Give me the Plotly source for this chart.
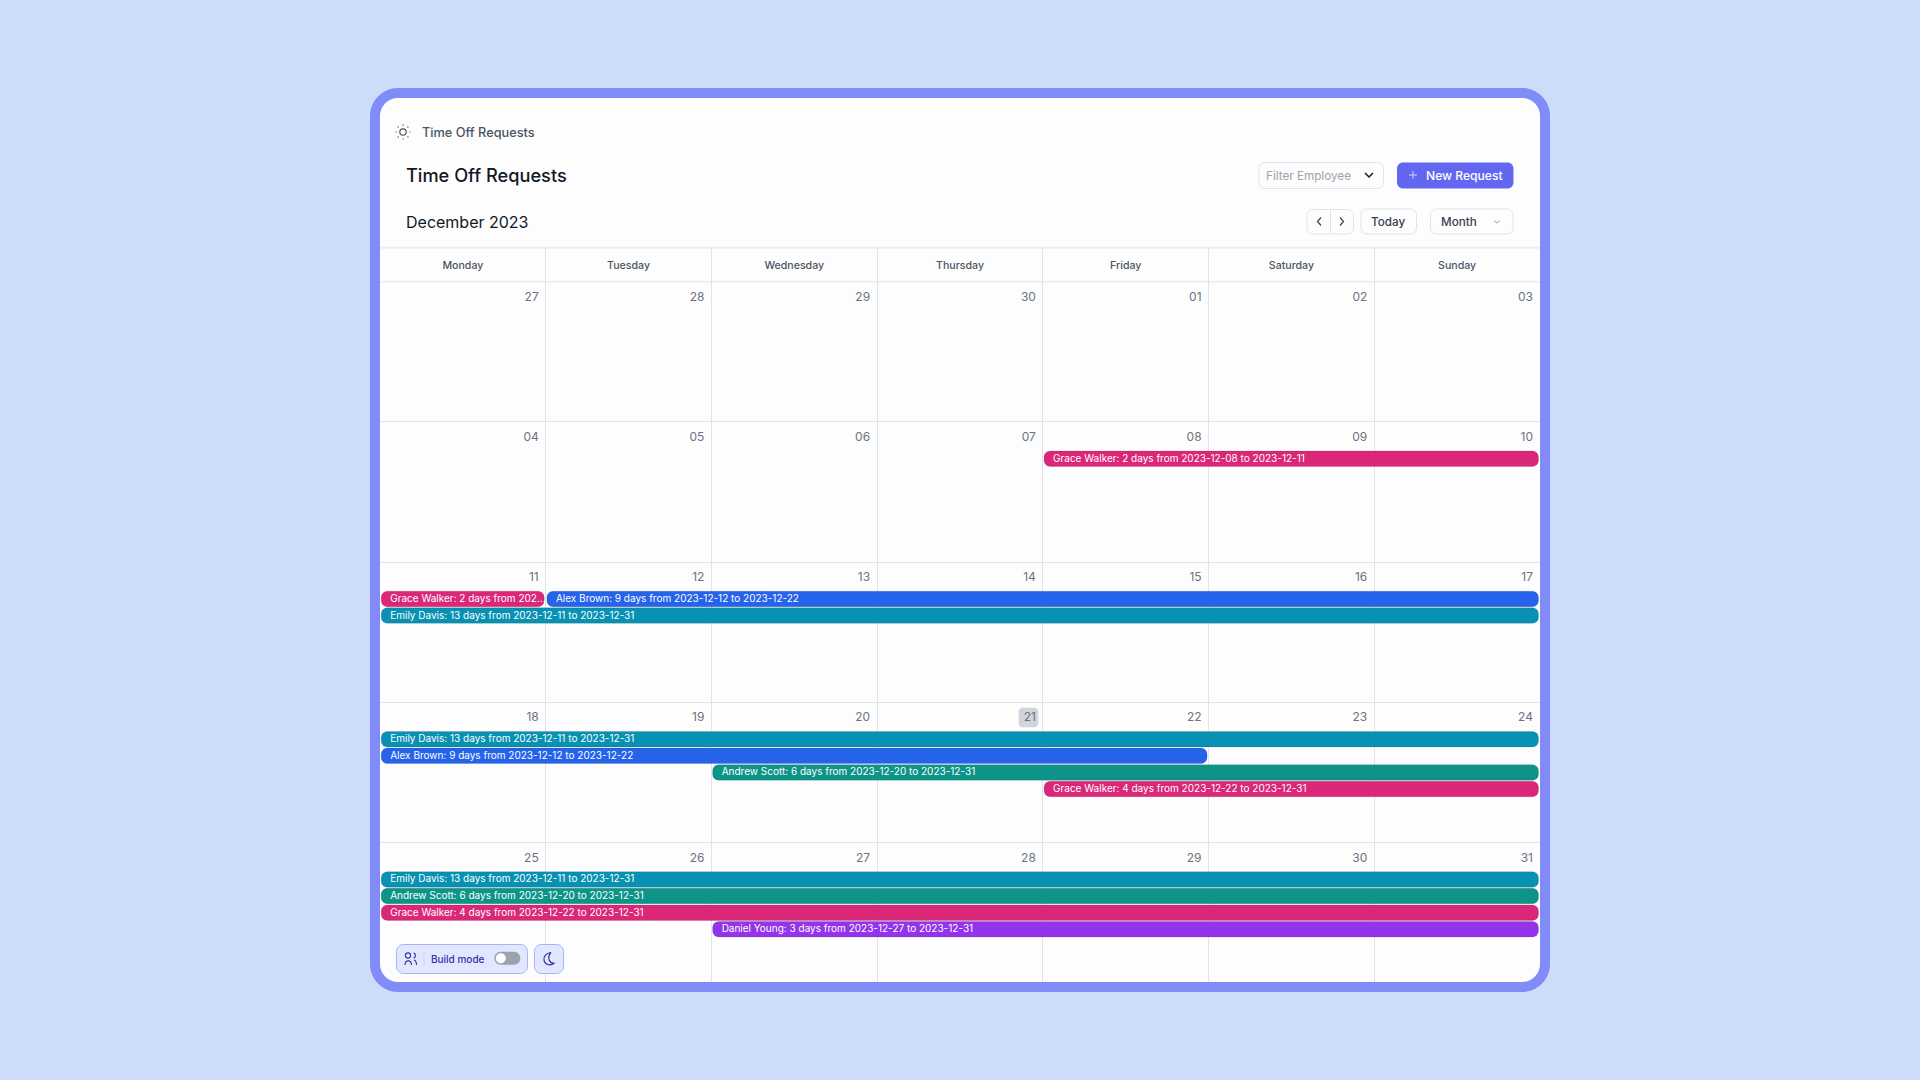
import plotly.graph_objects as go

weekdays = ["Monday", "Tuesday", "Wednesday", "Thursday", "Friday", "Saturday", "Sunday"]
date_labels = [
    ["27", "28", "29", "30", "01", "02", "03"],
    ["04", "05", "06", "07", "08", "09", "10"],
    ["11", "12", "13", "14", "15", "16", "17"],
    ["18", "19", "20", "21", "22", "23", "24"],
    ["25", "26", "27", "28", "29", "30", "31"],
]
today_week = 3
today_day = 3

# one entry per bar segment, a request that crosses weeks has several
event_employee = ["Grace Walker", "Grace Walker", "Alex Brown", "Emily Davis", "Emily Davis", "Alex Brown",
                  "Andrew Scott", "Grace Walker", "Emily Davis", "Andrew Scott", "Grace Walker", "Daniel Young"]
event_text = [
    "Grace Walker: 2 days from 2023-12-08 to 2023-12-11",
    "Grace Walker: 2 days from 202...",
    "Alex Brown: 9 days from 2023-12-12 to 2023-12-22",
    "Emily Davis: 13 days from 2023-12-11 to 2023-12-31",
    "Emily Davis: 13 days from 2023-12-11 to 2023-12-31",
    "Alex Brown: 9 days from 2023-12-12 to 2023-12-22",
    "Andrew Scott: 6 days from 2023-12-20 to 2023-12-31",
    "Grace Walker: 4 days from 2023-12-22 to 2023-12-31",
    "Emily Davis: 13 days from 2023-12-11 to 2023-12-31",
    "Andrew Scott: 6 days from 2023-12-20 to 2023-12-31",
    "Grace Walker: 4 days from 2023-12-22 to 2023-12-31",
    "Daniel Young: 3 days from 2023-12-27 to 2023-12-31",
]
event_week = [1, 2, 2, 2, 3, 3, 3, 3, 4, 4, 4, 4]
event_slot = [0, 0, 0, 1, 0, 1, 2, 3, 0, 1, 2, 3]
event_start = [4, 0, 1, 0, 0, 0, 2, 4, 0, 0, 0, 2]
event_days = [3, 1, 6, 7, 7, 5, 5, 3, 7, 7, 7, 5]

employee_colors = {
    "Grace Walker": "#DB2777",
    "Alex Brown": "#2563EB",
    "Emily Davis": "#0891B2",
    "Andrew Scott": "#0D9488",
    "Daniel Young": "#9333EA",
}

W, H = 1920, 1080
GRID_LEFT, GRID_RIGHT = 380, 1540
GRID_TOP, ROWS_TOP, GRID_BOTTOM = 247.7, 281.7, 982
COL_W = (GRID_RIGHT - GRID_LEFT) / 7
ROW_H = 140.25
FONT = "Inter"


def X(px):
    return px / W


def Y(py):
    return 1 - py / H


def rrect_path(x0, y0, x1, y1, r):
    k = r * 0.4477
    return (f"M{X(x0 + r)},{Y(y0)} L{X(x1 - r)},{Y(y0)} "
            f"C{X(x1 - k)},{Y(y0)} {X(x1)},{Y(y0 + k)} {X(x1)},{Y(y0 + r)} "
            f"L{X(x1)},{Y(y1 - r)} "
            f"C{X(x1)},{Y(y1 - k)} {X(x1 - k)},{Y(y1)} {X(x1 - r)},{Y(y1)} "
            f"L{X(x0 + r)},{Y(y1)} "
            f"C{X(x0 + k)},{Y(y1)} {X(x0)},{Y(y1 - k)} {X(x0)},{Y(y1 - r)} "
            f"L{X(x0)},{Y(y0 + r)} "
            f"C{X(x0)},{Y(y0 + k)} {X(x0 + k)},{Y(y0)} {X(x0 + r)},{Y(y0)} Z")


def circle_path(cx, cy, r):
    return rrect_path(cx - r, cy - r, cx + r, cy + r, r)


def poly_path(points):
    return "M" + " L".join(f"{X(x)},{Y(y)}" for x, y in points)


def curve_path(start, *curves):
    # each curve is (c1, c2, end) in pixels
    out = f"M{X(start[0])},{Y(start[1])}"
    for c1, c2, end in curves:
        out += f" C{X(c1[0])},{Y(c1[1])} {X(c2[0])},{Y(c2[1])} {X(end[0])},{Y(end[1])}"
    return out


def shape(path, fill="rgba(0,0,0,0)", line=None, width=1, layer="above"):
    return dict(type="path", path=path, xref="paper", yref="paper", fillcolor=fill, layer=layer,
                line=dict(color=line or "rgba(0,0,0,0)", width=width if line else 0))


def label(text, x, y, size, color, anchor="left", weight=400):
    # annotations sit a little to the right of their anchor
    if anchor == "left":
        x -= 2.4
    return dict(text=text, x=X(x), y=Y(y), xref="paper", yref="paper", xanchor=anchor, yanchor="middle",
                showarrow=False, font=dict(family=FONT, size=size, color=color, weight=weight))


shapes = [
    shape(rrect_path(370, 88, 1550, 992, 28), fill="#818CF8", layer="below"),
    shape(rrect_path(380, 98, 1540, 982, 18), fill="#FDFDFD", layer="below"),
    # the two lines around the weekday row are heavier than the week lines
    shape(poly_path([(GRID_LEFT, GRID_TOP), (GRID_RIGHT, GRID_TOP)]), line="#ECEEF3", width=2, layer="below"),
    shape(poly_path([(GRID_LEFT, ROWS_TOP), (GRID_RIGHT, ROWS_TOP)]), line="#ECEEF3", width=2, layer="below"),
]

# sun icon
shapes.append(shape(circle_path(403, 132, 3.2), line="#4B5563", width=1.2))
for dx, dy in [(0, -7.5), (0, 7.5), (-7.5, 0), (7.5, 0), (-5.3, -5.3), (5.3, -5.3), (-5.3, 5.3), (5.3, 5.3)]:
    shapes.append(shape(poly_path([(403 + dx * 0.85, 132 + dy * 0.85), (403 + dx, 132 + dy)]),
                        line="#4B5563", width=1.2))

# header controls
shapes += [
    shape(rrect_path(1259, 162.5, 1383.5, 188.5, 6), fill="#FDFDFD", line="#E1E3EA"),
    shape(poly_path([(1365, 173), (1369, 177), (1373, 173)]), line="#111827", width=1.5),
    shape(rrect_path(1397, 162.5, 1513.5, 188.5, 6), fill="#6366F1"),
    shape(poly_path([(1409, 175), (1417, 175)]), line="#C7D2FE", width=1),
    shape(poly_path([(1413, 171), (1413, 179)]), line="#C7D2FE", width=1),
    shape(rrect_path(1307, 209.5, 1353.5, 234, 6), fill="#FDFDFD", line="#E1E3EA"),
    shape(poly_path([(1330.5, 209.5), (1330.5, 234)]), line="#E1E3EA"),
    shape(poly_path([(1321, 217.5), (1317.5, 221.5), (1321, 225.5)]), line="#374151", width=1.2),
    shape(poly_path([(1340, 217.5), (1343.5, 221.5), (1340, 225.5)]), line="#374151", width=1.2),
    shape(rrect_path(1361, 209, 1416.5, 234, 6), fill="#FDFDFD", line="#E1E3EA"),
    shape(rrect_path(1430.5, 209, 1513, 234, 6), fill="#FDFDFD", line="#E1E3EA"),
    shape(poly_path([(1494, 220.5), (1497, 223), (1500, 220.5)]), line="#9CA3AF", width=1),
]

# today marker goes under the date text
today_x = GRID_LEFT + (today_day + 1) * COL_W - 14.4
today_y = ROWS_TOP + today_week * ROW_H + 15
shapes.append(shape(rrect_path(today_x - 9.8, today_y - 9.7, today_x + 9.8, today_y + 9.7, 4),
                    fill="#D1D5DB", layer="below"))

# build mode panel
shapes += [
    shape(rrect_path(396.5, 944.5, 527.5, 973.5, 7), fill="#E0E7FF", line="#A5B4FC"),
    shape(circle_path(408, 955.5, 2.6), line="#3730A3", width=1.1),
    shape(curve_path((405, 965), ((405, 959.5), (411.5, 959.5), (411.5, 965))), line="#3730A3", width=1.1),
    shape(curve_path((413.5, 953), ((416, 953), (416, 958), (413.5, 958))), line="#3730A3", width=1.1),
    shape(curve_path((414, 960), ((416, 960.5), (416.5, 962), (416.5, 965))), line="#3730A3", width=1.1),
    shape(poly_path([(424, 952), (424, 966)]), line="#C7D2FE"),
    shape(rrect_path(494.3, 951.7, 520.3, 964.7, 6.5), fill="#9CA3AF"),
    shape(circle_path(500.8, 958.2, 5), fill="#FFFFFF"),
    shape(rrect_path(534.5, 944.5, 563.5, 973.5, 7), fill="#E0E7FF", line="#A5B4FC"),
    shape(curve_path((551, 952.5),
                     ((546, 953), (543.5, 956.5), (544, 960)),
                     ((544.5, 964), (549.5, 967), (554.5, 963)),
                     ((549.5, 964), (546.5, 957.5), (551, 952.5))), line="#3730A3", width=1.2),
]

annotations = [
    label("Time Off Requests", 422.2, 132, 12.75, "#4B5563", weight=500),
    label("Time Off Requests", 406.5, 175.5, 18.2, "#111827", weight=500),
    label("December 2023", 406.5, 222, 16, "#111827"),
    label("Filter Employee", 1266.5, 176, 11.7, "#9CA3AF"),
    label("New Request", 1426, 175.5, 12.1, "#FFFFFF", weight=500),
    label("Today", 1388.2, 221.5, 11.7, "#374151", anchor="center", weight=500),
    label("Month", 1441.5, 221.5, 11.7, "#374151", weight=500),
    label("Build mode", 431, 958.5, 10, "#3730A3", weight=500),
]

# layout of the bars inside a day cell, in pixels
BAR_FIRST, BAR_STEP, BAR_H = 29.0, 16.6, 15.5
bar_left_pad, bar_right_pad = 1.2, 1.5
text_pad = 9.0

bar_y = [w + (BAR_FIRST + s * BAR_STEP + BAR_H / 2) / ROW_H for w, s in zip(event_week, event_slot)]
bar_base = [d + bar_left_pad / COL_W for d in event_start]
bar_len = [n - (bar_left_pad + bar_right_pad) / COL_W for n in event_days]
bar_colors = [employee_colors[e] for e in event_employee]
text_x = [d + (bar_left_pad + text_pad) / COL_W for d in event_start]
text_y = [y + 0.5 / ROW_H for y in bar_y]

date_x, date_y, date_text = [], [], []
for w, row in enumerate(date_labels):
    for d, value in enumerate(row):
        date_x.append(d + 1 - 7 / COL_W)
        date_y.append(w + 16 / ROW_H)
        date_text.append(value)

fig = go.Figure()
fig.add_trace(go.Bar(
    y=bar_y, x=bar_len, base=bar_base, orientation="h", width=BAR_H / ROW_H,
    marker=dict(color=bar_colors, cornerradius=6, line=dict(width=0.6, color="rgba(0,0,0,0.18)")),
    hoverinfo="skip", showlegend=False,
))
fig.add_trace(go.Scatter(
    x=text_x, y=text_y, text=event_text, mode="text", textposition="middle right",
    textfont=dict(family=FONT, size=10, color="#FFFFFF"),
    hoverinfo="skip", showlegend=False,
))
fig.add_trace(go.Scatter(
    x=date_x, y=date_y, text=date_text, mode="text", textposition="middle left",
    textfont=dict(family=FONT, size=12, color="#6B7280"),
    hoverinfo="skip", showlegend=False,
))
fig.add_trace(go.Scatter(
    x=[i + 0.5 for i in range(7)], y=[-(ROWS_TOP - GRID_TOP) / 2 / ROW_H + 1.5 / ROW_H] * 7, text=weekdays,
    mode="text", textposition="middle center",
    textfont=dict(family=FONT, size=10.6, color="#4B5563", weight=500),
    hoverinfo="skip", showlegend=False,
))

fig.update_layout(
    width=W, height=H, margin=dict(l=0, r=0, t=0, b=0), autosize=False,
    paper_bgcolor="#CEDCFC", plot_bgcolor="rgba(0,0,0,0)",
    barmode="overlay", showlegend=False,
    shapes=shapes, annotations=annotations,
    xaxis=dict(domain=[X(GRID_LEFT), X(GRID_RIGHT)], range=[0, 7], tickvals=list(range(8)),
               showgrid=True, gridcolor="#E1E3EA", gridwidth=1, zeroline=False, showticklabels=False, ticks=""),
    yaxis=dict(domain=[Y(GRID_BOTTOM), Y(GRID_TOP)],
               range=[(GRID_BOTTOM - ROWS_TOP) / ROW_H, -(ROWS_TOP - GRID_TOP) / ROW_H],
               tickvals=[1, 2, 3, 4],
               showgrid=True, gridcolor="#E1E3EA", gridwidth=1, zeroline=False, showticklabels=False, ticks=""),
)

fig.write_html("out.html", config={"displayModeBar": False},
               post_script="document.body.style.margin='0';document.documentElement.style.overflow='hidden';")
